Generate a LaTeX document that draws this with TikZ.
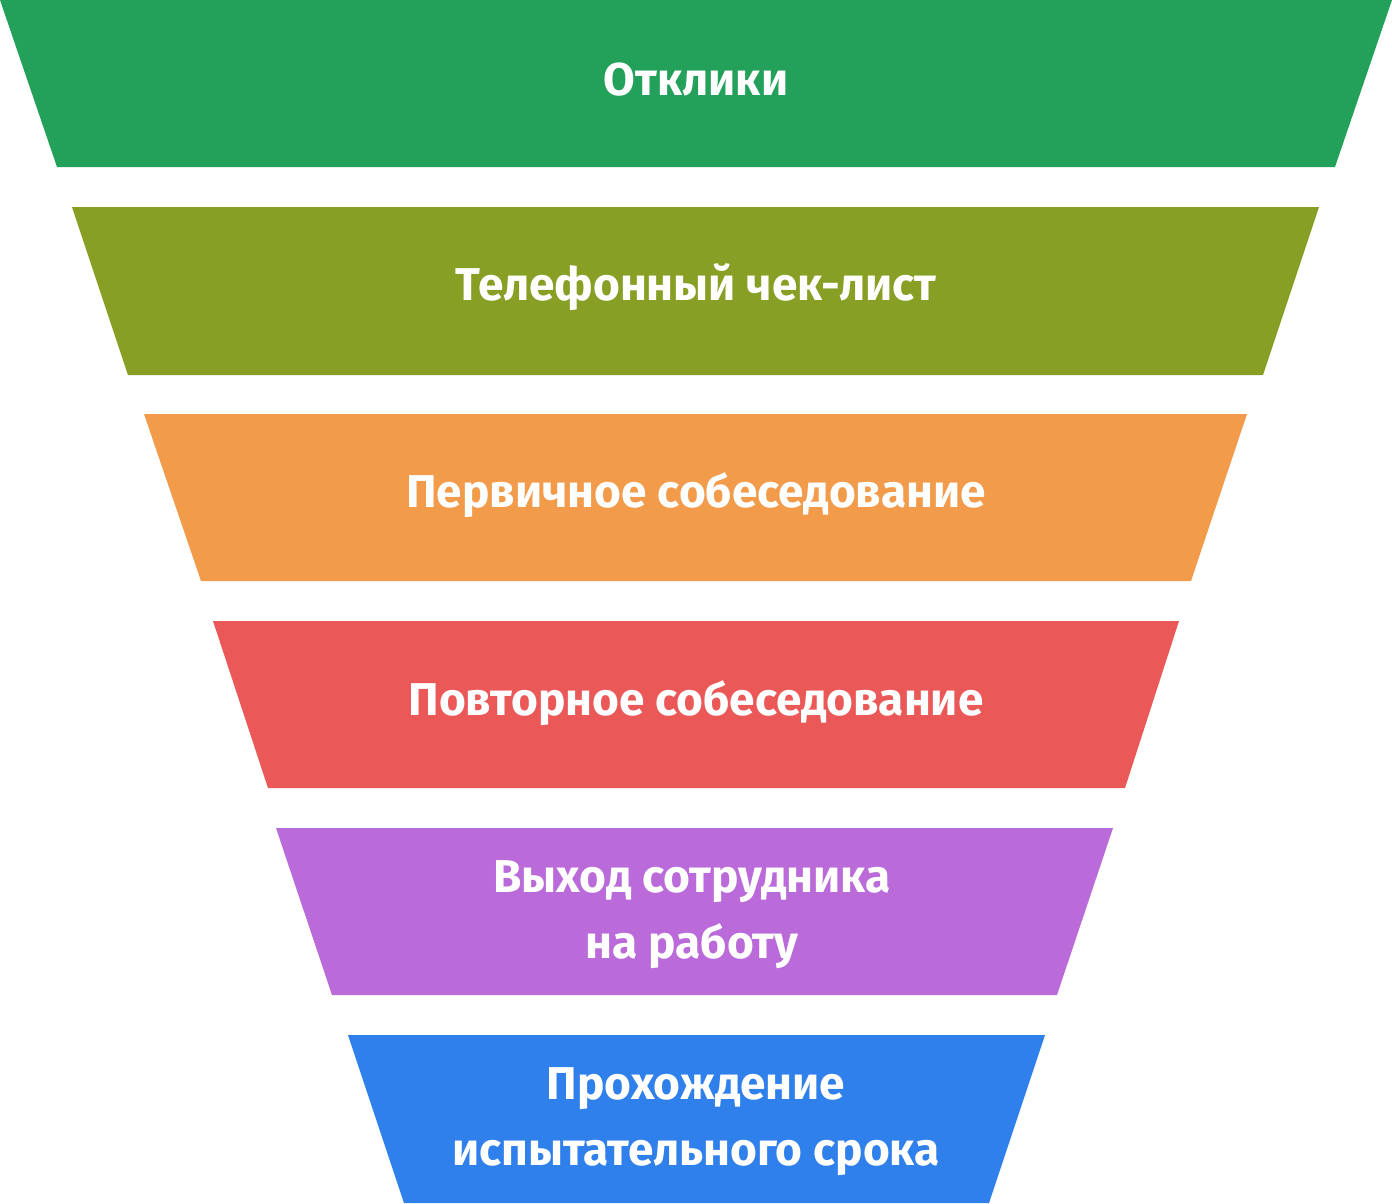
\documentclass[tikz,border=0pt]{standalone}
\usepackage{fontspec}
\setmainfont{Fira Sans}
\definecolor{c1}{HTML}{23A15A}
\definecolor{c2}{HTML}{889F26}
\definecolor{c3}{HTML}{F29B4B}
\definecolor{c4}{HTML}{EA5858}
\definecolor{c5}{HTML}{BA6BD9}
\definecolor{c6}{HTML}{2F80EB}
\tikzset{lbl/.style={text=white,font=\fontsize{46}{66}\selectfont\bfseries,align=center}}
\begin{document}
\begin{tikzpicture}[x=1pt,y=-1pt]
\useasboundingbox (0,0) rectangle (1392,1203);
\fill[c1] (0,0) -- (1392,0) -- (1335,167) -- (57,167) -- cycle;
\fill[c2] (72,207) -- (1319,207) -- (1263,375) -- (128,375) -- cycle;
\fill[c3] (144,414) -- (1247,414) -- (1191,581) -- (201,581) -- cycle;
\fill[c4] (213,621) -- (1179,621) -- (1125,788) -- (268,788) -- cycle;
\fill[c5] (276,828) -- (1113,828) -- (1057,995) -- (332,995) -- cycle;
\fill[c6] (348,1035) -- (1045,1035) -- (989,1203) -- (404,1203) -- cycle;
\node[lbl] (t1) at (696,80) {Отклики};
\node[lbl] (t2) at (696,287) {Телефонный чек-лист};
\node[lbl] (t3) at (696,495) {Первичное собеседование};
\node[lbl] (t4) at (696,703) {Повторное собеседование};
\node[lbl] (t5) at (692,915) {Выход сотрудника\\на работу};
\node[lbl] (t6) at (696,1122) {Прохождение\\испытательного срока};
\end{tikzpicture}
\end{document}
